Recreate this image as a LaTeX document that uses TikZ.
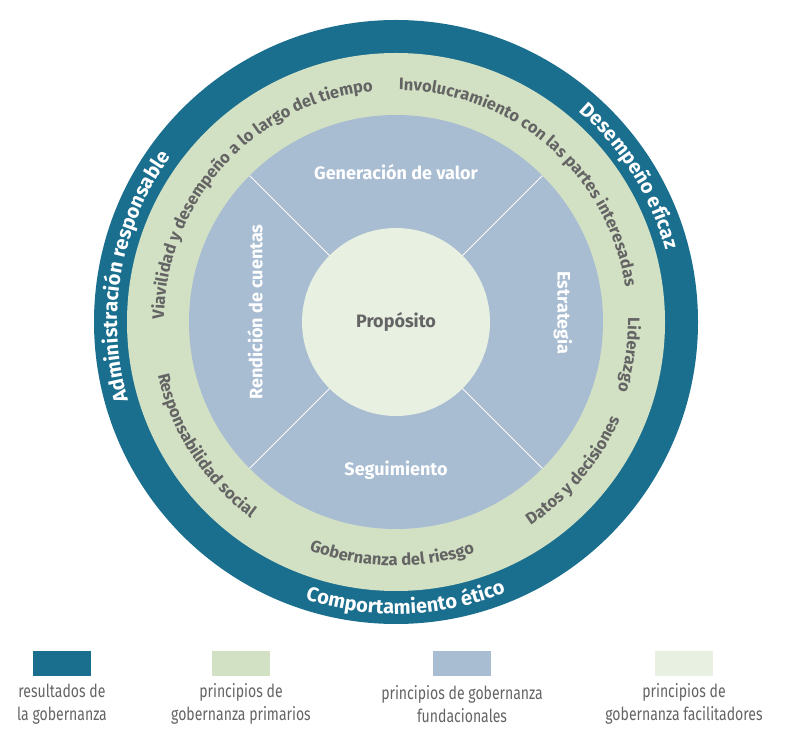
\documentclass[tikz,border=0pt]{standalone}
\usepackage{fontspec}
\setmainfont{Fira Sans}
\usetikzlibrary{decorations.text,calc}
\definecolor{dk}{RGB}{26,110,142}
\definecolor{gr}{RGB}{210,224,196}
\definecolor{bl}{RGB}{168,188,210}
\definecolor{pl}{RGB}{232,240,226}
\definecolor{tx}{RGB}{100,100,100}
\begin{document}
\begin{tikzpicture}[x=1pt,y=1pt,
  wt/.style={font=\bfseries\fontsize{18}{18}\selectfont,text=white},
  ct/.style={font=\bfseries\fontsize{18}{18}\selectfont,text=tx},
  leg/.style={font=\fontsize{18}{23}\selectfont,text=tx,align=center},
  sw/.style={minimum width=58pt,minimum height=25pt,inner sep=0pt}]
\useasboundingbox (0,0) rectangle (800,734);
\coordinate (C) at (396,412);
\fill[dk] (C) circle[radius=302];
\fill[gr] (C) circle[radius=269];
\fill[bl] (C) circle[radius=207];
\node[circle,fill=pl,minimum size=188pt,inner sep=0pt] (p) at (C) {};
\node[ct] (pt) at (C) {Propósito};
\foreach \a in {45,135,225,315}
  \draw[white,line width=1pt] ($(C)+(\a:94)$) -- ($(C)+(\a:207)$);
\node[wt] (gv) at (396,562) {Generación de valor};
\node[wt] (sg) at (396,264) {Seguimiento};
\node[wt,rotate=-90] (es) at (563,421) {Estrategia};
\node[wt,rotate=90] (rc) at (255,422) {Rendición de cuentas};
% dark ring texts
\path[decorate,decoration={text along path,text align=center,
  text={|\bfseries\fontsize{20}{20}\selectfont\color{white}|Administración responsable}}]
  ($(C)+(230:279)$) arc[start angle=230,end angle=110,radius=279];
\path[decorate,decoration={text along path,text align=center,
  text={|\bfseries\fontsize{20}{20}\selectfont\color{white}|Desempeño eficaz}}]
  ($(C)+(80:279)$) arc[start angle=80,end angle=-16,radius=279];
\path[decorate,decoration={text along path,text align=center,
  text={|\bfseries\fontsize{20}{20}\selectfont\color{white}|Comportamiento ético}}]
  ($(C)+(225:292)$) arc[start angle=225,end angle=319,radius=292];
% green ring texts
\path[decorate,decoration={text along path,text align=center,
  text={|\bfseries\fontsize{16.5}{17}\selectfont\color{tx}|Viavilidad y desempeño a lo largo del tiempo}}]
  ($(C)+(205:232)$) arc[start angle=205,end angle=70,radius=232];
\path[decorate,decoration={text along path,text align=center,
  text={|\bfseries\fontsize{16.5}{17}\selectfont\color{tx}|Involucramiento con las partes interesadas}}]
  ($(C)+(112:232)$) arc[start angle=112,end angle=-14,radius=232];
\path[decorate,decoration={text along path,text align=center,
  text={|\bfseries\fontsize{16.5}{17}\selectfont\color{tx}|Liderazgo}}]
  ($(C)+(20:232)$) arc[start angle=20,end angle=-36,radius=232];
\path[decorate,decoration={text along path,text align=center,
  text={|\bfseries\fontsize{16.5}{17}\selectfont\color{tx}|Datos y decisiones}}]
  ($(C)+(-82:244)$) arc[start angle=-82,end angle=2,radius=244];
\path[decorate,decoration={text along path,text align=center,
  text={|\bfseries\fontsize{16.5}{17}\selectfont\color{tx}|Gobernanza del riesgo}}]
  ($(C)+(228:244)$) arc[start angle=228,end angle=310,radius=244];
\path[decorate,decoration={text along path,text align=center,
  text={|\bfseries\fontsize{16.5}{17}\selectfont\color{tx}|Responsabilidad social}}]
  ($(C)+(173:244)$) arc[start angle=173,end angle=253,radius=244];
% legend
\node[sw,fill=dk] (s1) at (62,71) {};
\node[sw,fill=gr] (s2) at (241,71) {};
\node[sw,fill=bl] (s3) at (462,71) {};
\node[sw,fill=pl] (s4) at (684,71) {};
\node[leg] (l1) at (62,30) {\scalebox{0.78}[1]{resultados de}\\\scalebox{0.78}[1]{la gobernanza}};
\node[leg] (l2) at (241,30) {\scalebox{0.78}[1]{principios de}\\\scalebox{0.78}[1]{gobernanza primarios}};
\node[leg] (l3) at (462,30) {\scalebox{0.78}[1]{principios de gobernanza}\\\scalebox{0.78}[1]{fundacionales}};
\node[leg] (l4) at (684,30) {\scalebox{0.78}[1]{principios de}\\\scalebox{0.78}[1]{gobernanza facilitadores}};
\end{tikzpicture}
\end{document}
